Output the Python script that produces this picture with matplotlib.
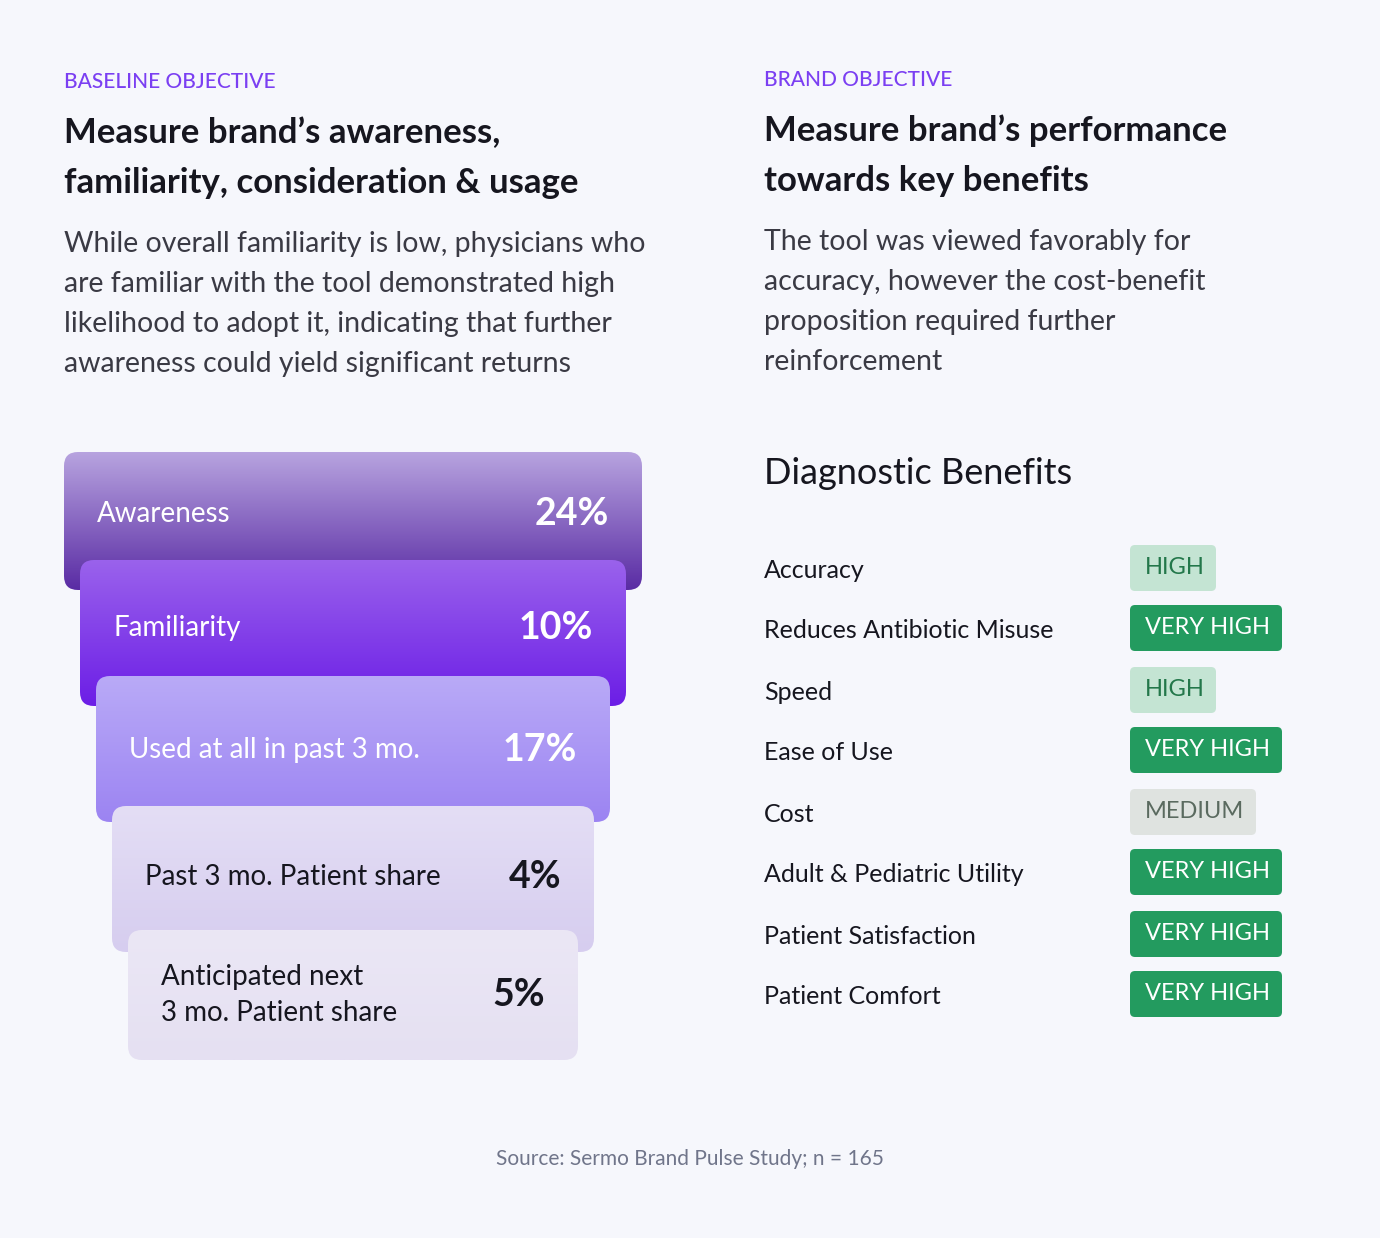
import matplotlib
matplotlib.use("Agg")
import matplotlib.pyplot as plt
import numpy as np
from matplotlib.patches import FancyBboxPatch
from matplotlib.colors import LinearSegmentedColormap

plt.rcParams['font.family'] = ['Lato', 'DejaVu Sans']

stages = ["Awareness", "Familiarity", "Used at all in past 3 mo.", "Past 3 mo. Patient share", "Anticipated next\n3 mo. Patient share"]
stage_values = ["24%", "10%", "17%", "4%", "5%"]
benefits = ["Accuracy", "Reduces Antibiotic Misuse", "Speed", "Ease of Use", "Cost",
            "Adult & Pediatric Utility", "Patient Satisfaction", "Patient Comfort"]
ratings = ["HIGH", "VERY HIGH", "HIGH", "VERY HIGH", "MEDIUM", "VERY HIGH", "VERY HIGH", "VERY HIGH"]

BG = "#f6f7fc"
fig = plt.figure(figsize=(13.8, 12.38), dpi=100, facecolor=BG)
ax = fig.add_axes([0, 0, 1, 1])
ax.set_xlim(0, 1380); ax.set_ylim(1238, 0); ax.axis('off'); ax.set_facecolor(BG)

PURPLE = "#7b3ff2"; DARK = "#16161f"; GREY = "#3a3a44"
ax.text(64, 82, "BASELINE OBJECTIVE", color=PURPLE, fontsize=15, va='center', fontweight='medium')
ax.text(764, 80, "BRAND OBJECTIVE", color=PURPLE, fontsize=15, va='center', fontweight='medium')
import matplotlib.patheffects as pe
for t, y in [("Measure brand’s awareness,", 133), ("familiarity, consideration & usage", 183)]:
    ax.text(64, y, t, color=DARK, fontsize=25, fontweight='bold', va='center')
for t, y in [("Measure brand’s performance", 131), ("towards key benefits", 181)]:
    ax.text(764, y, t, color=DARK, fontsize=25, fontweight='bold', va='center')
left_body = ["While overall familiarity is low, physicians who", "are familiar with the tool demonstrated high",
             "likelihood to adopt it, indicating that further", "awareness could yield significant returns"]
for i, t in enumerate(left_body):
    ax.text(64, 244 + 40 * i, t, color=GREY, fontsize=20.5, va='center')
right_body = ["The tool was viewed favorably for", "accuracy, however the cost-benefit",
              "proposition required further", "reinforcement"]
for i, t in enumerate(right_body):
    ax.text(764, 242 + 40 * i, t, color=GREY, fontsize=20.5, va='center')

tops = [452, 560, 676, 806, 930]
bottoms = [590, 706, 822, 952, 1060]
grads = [("#b7a3df", "#5a2ca4"), ("#9a62ec", "#6c1ee6"), ("#b9aaf7", "#9c84f2"),
         ("#e4def5", "#d6cdef"), ("#ebe7f5", "#e5e0f2")]
txtc = ["white", "white", "white", DARK, DARK]
for i in range(5):
    x0 = 64 + 16 * i; x1 = 642 - 16 * i
    y0, y1 = tops[i], bottoms[i]
    patch = FancyBboxPatch((x0, y0), x1 - x0, y1 - y0, boxstyle="round,pad=0,rounding_size=14",
                           fc='none', ec='none')
    ax.add_patch(patch)
    cmap = LinearSegmentedColormap.from_list("g", grads[i])
    im = ax.imshow(np.linspace(0, 1, 100).reshape(-1, 1), cmap=cmap, aspect='auto',
                   extent=(x0, x1, y1, y0), zorder=i + 1)
    im.set_clip_path(patch)
    ys = [514, 628, 750, 877, 995][i]
    ax.text(x0 + 33, ys, stages[i], color=txtc[i], fontsize=20, va='center', zorder=10,
            linespacing=1.5)
    ax.text(x1 - 33, ys, stage_values[i], color=txtc[i], fontsize=27, fontweight='bold',
            va='center', ha='right', zorder=10)
ax.set_xlim(0, 1380); ax.set_ylim(1238, 0)

ax.text(764, 473, "Diagnostic Benefits", color=DARK, fontsize=26, va='center')
styles = {"HIGH": ("#c4e4d3", "#23774a", 86), "VERY HIGH": ("#239b5f", "white", 152),
          "MEDIUM": ("#dfe3e0", "#5a6a5f", 126)}
for i, (b, r) in enumerate(zip(benefits, ratings)):
    y = 571 + 61 * i - (1 if i % 2 else 0)
    ax.text(764, y, b, color=DARK, fontsize=18, va='center')
    fc, tc, w = styles[r]
    by = y - 3
    ax.add_patch(FancyBboxPatch((1130, by - 23), w, 46, boxstyle="round,pad=0,rounding_size=5",
                                fc=fc, ec='none'))
    ax.text(1145, by, r, color=tc, fontsize=17, va='center')

ax.text(690, 1159, "Source: Sermo Brand Pulse Study; n = 165", color="#70758a", fontsize=15,
        ha='center', va='center')
fig.savefig("out.png", dpi=100, facecolor=BG)
